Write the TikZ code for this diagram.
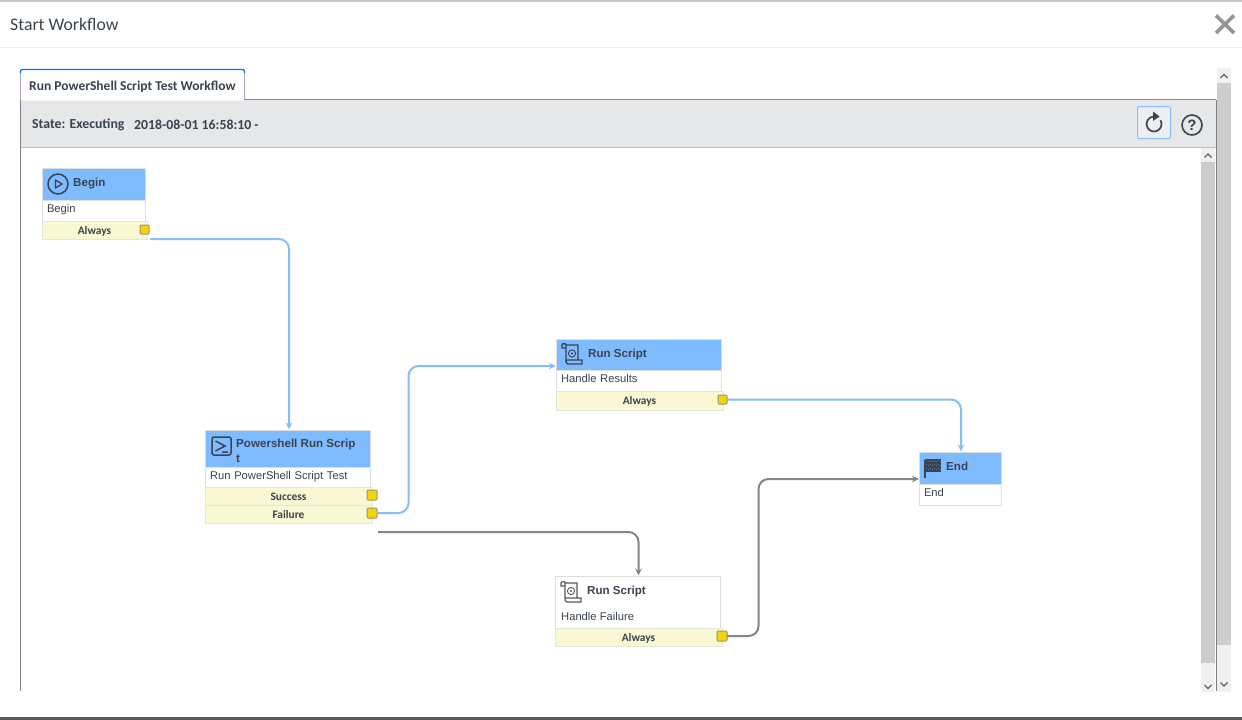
\documentclass[tikz,border=0pt]{standalone}
\usepackage{fontspec}
\setmainfont{Liberation Sans}
\newfontfamily\uifont{Carlito}
\usetikzlibrary{positioning,arrows.meta}

\definecolor{headblue}{HTML}{7FBBFF}
\definecolor{flowblue}{HTML}{85BEFA}
\definecolor{flowgrey}{HTML}{858585}
\definecolor{rowyellow}{HTML}{F8F8D2}
\definecolor{portyellow}{HTML}{F7D40A}
\definecolor{boxedge}{HTML}{DEDEDE}
\definecolor{inkdark}{HTML}{3A4350}
\definecolor{barbg}{HTML}{E6E7E9}
\definecolor{trackbg}{HTML}{F0F0F0}
\definecolor{thumbbg}{HTML}{CDCDCD}

\tikzset{
  headbox/.style={draw=boxedge, fill=headblue, anchor=north west, inner sep=0pt, outer sep=0pt, minimum width=#1, minimum height=32pt},
  bodybox/.style={draw=boxedge, fill=white, inner xsep=5pt, inner ysep=0pt, outer sep=0pt, text width=#1, align=left, minimum height=21pt, text height=8.5pt, text depth=4.5pt, text=inkdark, font=\fontsize{11.2}{14}\selectfont},
  rowbox/.style={draw=boxedge!70!rowyellow, fill=rowyellow, inner sep=0pt, outer sep=0pt, minimum width=#1, minimum height=18pt, text height=10pt, text depth=1.5pt, text=inkdark, font=\uifont\bfseries\fontsize{11.4}{14}\selectfont},
  headtext/.style={anchor=west, inner sep=0pt, text=inkdark, align=left, font=\bfseries\fontsize{11.6}{15}\selectfont},
  portbox/.style={draw=black!40!rowyellow, line width=1pt, fill=portyellow, rounded corners=1pt, inner sep=0pt, minimum size=9pt, outer sep=0pt},
  blueflow/.style={draw=flowblue, line width=2pt, rounded corners=10pt, -{Stealth[length=7pt,width=6.5pt]}},
  greyflow/.style={draw=flowgrey, line width=2pt, rounded corners=10pt, -{Stealth[length=7pt,width=6.5pt]}},
  iconline/.style={draw=inkdark, line width=1.4pt},
  uitext/.style={inner sep=0pt, anchor=west, text=inkdark, font=\uifont},
  chevron/.style={draw=black!60, line width=1.1pt}
}

\begin{document}
\begin{tikzpicture}[x=1pt,y=-1pt]
  \useasboundingbox (0,0) rectangle (1242,720);
  \fill[white] (0,0) rectangle (1242,720);

  % dialog frame
  \fill[black!22] (0,0) rectangle (1242,1.5);
  \fill[black!7] (0,46.5) rectangle (1242,48);
  \fill[black!65] (0,717) rectangle (1242,720);
  \node[uitext, font=\uifont\fontsize{17.7}{20}\selectfont] (dialogtitle) at (10,24) {Start Workflow};
  \draw[black!42, line width=3.6pt] (1216,15.5) -- (1234,33) (1234,15.5) -- (1216,33);

  % panel
  \fill[barbg] (20.5,100) rectangle (1216,147);
  \draw[black!45] (20.5,99.5) -- (1216,99.5);
  \draw[black!25] (20.5,147.5) -- (1216,147.5);
  \draw[black!50] (20.5,100) -- (20.5,691);
  \draw[black!50] (1216.5,100) -- (1216.5,691);
  \fill[white, rounded corners=2pt] (20,100.5) -- (20,69.5) -- (245,69.5) -- (245,100.5) -- cycle;
  \draw[black!55!blue, rounded corners=2pt] (20.5,100) -- (20.5,69.5) -- (244.5,69.5) -- (244.5,100);
  \draw[blue!55!cyan, line width=1.2pt, rounded corners=2pt] (20.5,73) -- (20.5,69.5) -- (244.5,69.5) -- (244.5,73);
  \node[uitext, font=\uifont\bfseries\fontsize{13.5}{17}\selectfont] (tabtitle) at (29,87) {Run PowerShell Script Test Workflow};
  \node[uitext, font=\uifont\bfseries\fontsize{13.8}{17}\selectfont] (statetext) at (32,125) {State: Executing};
  \node[uitext, font=\uifont\bfseries\fontsize{13.8}{17}\selectfont] (timetext) at (134,125) {2018-08-01 16:58:10 -};

  % toolbar buttons
  \draw[draw=flowblue, fill=barbg!70!white, rounded corners=2pt, line width=1pt] (1137.5,106.5) rectangle (1170.5,138.5);
  \draw[iconline, line width=1.7pt] (1160.5,120.25) arc[start angle=30, end angle=-265, radius=7.5pt];
  \fill[inkdark] (1153,111.5) -- (1159.5,116.5) -- (1153,121) -- cycle;
  \draw[iconline, line width=1.6pt] (1192,125) circle[radius=10];
  \node[inner sep=0pt, text=inkdark, font=\bfseries\fontsize{15}{15}\selectfont] (helpmark) at (1192,125) {?};

  % scrollbars
  \fill[trackbg] (1217,68) rectangle (1231,692);
  \fill[thumbbg] (1217,83) rectangle (1231,645);
  \fill[trackbg] (1201,148) rectangle (1215,692);
  \fill[thumbbg] (1201,162) rectangle (1215,663);
  \draw[chevron] (1220.5,78) -- (1224,74.5) -- (1227.5,78);
  \draw[chevron] (1204.5,157.5) -- (1208,154) -- (1211.5,157.5);
  \draw[chevron] (1220.5,682.5) -- (1224,686) -- (1227.5,682.5);
  \draw[chevron] (1204.5,685) -- (1208,688.5) -- (1211.5,685);

  % begin
  \node[headbox=103pt] (beginhead) at (42,168) {};
  \node[bodybox=93pt, below=0pt of beginhead.south west, anchor=north west] (beginbody) {Begin};
  \node[rowbox=105pt, below=0pt of beginbody.south west, anchor=north west] (beginrow) {Always};
  \node[portbox] (beginport) at (144.5,229.5) {};
  \node[headtext] (begintitle) at (73,184) {Begin};
  \draw[iconline, line width=1.5pt] (58,184) circle[radius=10];
  \draw[iconline, line join=round] (55.5,180) -- (62,184) -- (55.5,188) -- cycle;

  % powershell
  \node[headbox=165pt, minimum height=37pt] (scripthead) at (205,430) {};
  \node[bodybox=155pt, minimum height=20pt, below=0pt of scripthead.south west, anchor=north west] (scriptbody) {Run PowerShell Script Test};
  \node[rowbox=167pt, below=0pt of scriptbody.south west, anchor=north west] (successrow) {Success};
  \node[rowbox=167pt, below=0pt of successrow.south west, anchor=north west] (failurerow) {Failure};
  \node[portbox, minimum size=10pt] (successport) at (372,495) {};
  \node[portbox, minimum size=10pt] (failureport) at (372,513) {};
  \node[headtext, anchor=north west] (scripttitle) at (236,439) {Powershell Run Scrip\\t};
  \draw[iconline, line width=1.5pt, rounded corners=2pt] (212,437) rectangle (231,455);
  \draw[iconline, line width=1.5pt] (215.5,441) -- (225,446) -- (215.5,451) (222,452) -- (228,452);

  % handle results
  \node[headbox=165pt, minimum height=31pt] (resultshead) at (556,339) {};
  \node[bodybox=155pt, below=0pt of resultshead.south west, anchor=north west] (resultsbody) {Handle Results};
  \node[rowbox=167pt, minimum height=19pt, below=0pt of resultsbody.south west, anchor=north west] (resultsrow) {Always};
  \node[portbox] (resultsport) at (722.5,399.5) {};
  \node[headtext] (resultstitle) at (588,354) {Run Script};
  \draw[iconline] (566,345) -- (578,345) -- (578,360) (566,345) -- (566,360) -- (582,360) -- (582,364) -- (568,364) .. controls (566,364) and (566,362) .. (566,360) (566,345) .. controls (566,343) and (562,343) .. (562,345.5) -- (562,348) -- (566,348);
  \draw[iconline, line width=0.9pt] (572,353.5) circle[radius=3.6];
  \fill[inkdark] (572,353.5) circle[radius=1.2];

  % handle failure
  \node[draw=boxedge, fill=white, anchor=north west, inner sep=0pt, outer sep=0pt, minimum width=165pt, minimum height=52pt] (failbox) at (555,576) {};
  \node[rowbox=167pt, below=0pt of failbox.south west, anchor=north west] (failrow) {Always};
  \node[portbox, minimum size=10pt] (failport) at (722,636) {};
  \node[headtext] (failtitle) at (587,591) {Run Script};
  \node[inner sep=0pt, anchor=west, text=inkdark, font=\fontsize{11.2}{14}\selectfont] (failtext) at (561,616) {Handle Failure};
  \draw[iconline, draw=black!65, line width=1.2pt] (565,583) -- (577,583) -- (577,598) (565,583) -- (565,598) -- (581,598) -- (581,602) -- (567,602) .. controls (565,602) and (565,600) .. (565,598) (565,583) .. controls (565,581) and (561,581) .. (561,583.5) -- (561,586) -- (565,586);
  \draw[iconline, draw=black!65, line width=0.9pt] (571,591) circle[radius=3.6];
  \fill[black!65] (571,591) circle[radius=1.2];

  % end
  \node[headbox=82pt] (endhead) at (919,452) {};
  \node[bodybox=72pt, below=0pt of endhead.south west, anchor=north west] (endbody) {End};
  \node[headtext] (endtitle) at (946,466.5) {End};
  \draw[iconline] (925,459.5) -- (925,478);
  \fill[inkdark] (925,459) rectangle (941,472);
  \foreach \i in {0,...,7} {
    \foreach \j in {0,2,4} {
      \pgfmathsetmacro{\shift}{mod(\i,2)*2}
      \fill[headblue!45!inkdark] (925.5+2*\i,459.5+2*\j+\shift/2) rectangle +(1,1);
    }
  }

  % free ends of the connectors
  \coordinate (beginout) at (150,239);
  \coordinate (scriptin) at (289,429.5);
  \coordinate (resultsin) at (556,366);
  \coordinate (failureout) at (378,532);
  \coordinate (failin) at (638.5,575.5);
  \coordinate (endin) at (961,451.5);
  \coordinate (endside) at (919,479);

  \draw[blueflow] (beginout) -| (scriptin);
  \draw[blueflow] (failureport.east) -- (408.5,513) -- (408.5,366) -- (resultsin);
  \draw[blueflow] (resultsport.east) -| (endin);
  \draw[greyflow] (failureout) -| (failin);
  \draw[greyflow] (failport.east) -- (758.5,636) -- (758.5,479) -- (endside);
\end{tikzpicture}
\end{document}
